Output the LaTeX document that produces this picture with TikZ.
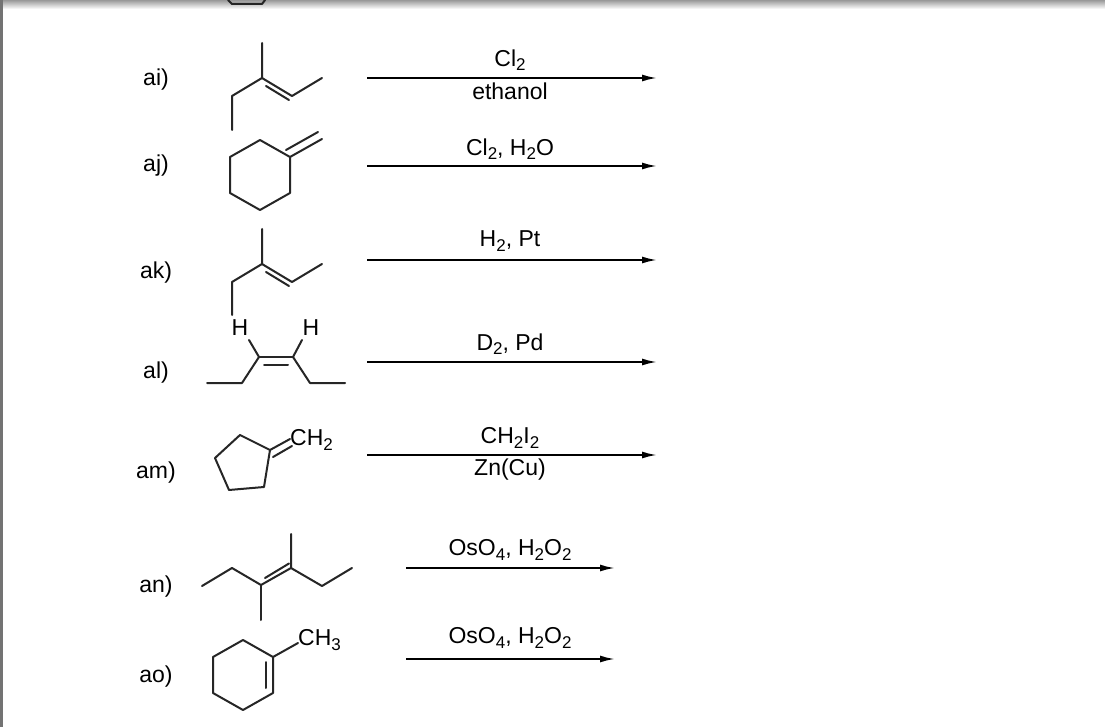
\documentclass[tikz,border=0pt]{standalone}
\usepackage{fontspec}
\setmainfont{Liberation Sans}
\usetikzlibrary{arrows.meta}
\newcommand{\sbs}[1]{\raisebox{-0.35ex}{\fontsize{17}{20}\selectfont #1}}
\begin{document}
\begin{tikzpicture}[x=1pt,y=-1pt,
  bond/.style={line width=2pt,line cap=round,line join=round,color=black!85},
  rxn/.style={line width=1.9pt,-{Latex[length=15pt,width=7pt]}},
  lbl/.style={font=\fontsize{23}{26}\selectfont,inner sep=0pt},
  reag/.style={font=\fontsize{23}{26}\selectfont,inner sep=0pt}]
\useasboundingbox (0,0) rectangle (1105,727);
\fill[white] (0,0) rectangle (1105,727);
\shade[top color=black!40,bottom color=white] (0,0) rectangle (1105,9);
\fill[black!55] (0,0) rectangle (3,727);
\draw[bond] (228,0) -- (232,4) -- (262,4) -- (265,0);
% labels
\node[lbl] (lai) at (156,80) {ai)};
\node[lbl] (laj) at (156,166) {aj)};
\node[lbl] (lak) at (156,273) {ak)};
\node[lbl] (lal) at (156,373) {al)};
\node[lbl] (lam) at (156,473) {am)};
\node[lbl] (lan) at (156,587) {an)};
\node[lbl] (lao) at (156,677) {ao)};
% ai
\draw[bond] (262,43) -- (262,78) -- (232,96) -- (232,130);
\draw[bond] (262,78) -- (292,96) -- (322,78);
\draw[bond] (266,86) -- (289,100);
% aj
\draw[bond] (260,140) -- (290,157) -- (290,193) -- (260,210) -- (230,193) -- (230,157) -- cycle;
\draw[bond] (290,157) -- (322,139);
\draw[bond] (286,150) -- (318,132);
% ak
\draw[bond] (262,229) -- (262,264) -- (232,282) -- (232,315);
\draw[bond] (262,264) -- (292,282) -- (322,264);
\draw[bond] (266,272) -- (289,286);
% al
\node[lbl] (h1) at (240,328) {H};
\node[lbl] (h2) at (311,328) {H};
\draw[bond] (249,340) -- (259,357) -- (242,383) -- (207,383);
\draw[bond] (302,340) -- (293,357) -- (310,383) -- (345,383);
\draw[bond] (259,357) -- (293,357);
\draw[bond] (264,365) -- (288,365);
% am
\draw[bond] (270,450) -- (240,435) -- (215,458) -- (229,490) -- (264,487) -- cycle;
\draw[bond] (270,450) -- (290,439);
\draw[bond] (273,457) -- (292,446);
\node[lbl,anchor=west] (ch2) at (290,440) {CH\sbs{2}};
% an
\draw[bond] (232,568) -- (202,586);
\draw[bond] (261,585) -- (232,568);
\draw[bond] (261,585) -- (261,620);
\draw[bond] (261,585) -- (291,568) -- (291,534);
\draw[bond] (291,568) -- (322,586) -- (352,568);
\draw[bond] (265,578) -- (289,563.5);
% ao
\draw[bond] (243,640) -- (273,657) -- (273,693) -- (243,710) -- (213,693) -- (213,657) -- cycle;
\draw[bond] (266,662) -- (266,688);
\draw[bond] (273,657) -- (298,643);
\node[lbl,anchor=west] (ch3) at (298,640) {CH\sbs{3}};
% arrows
\coordinate (a1) at (367,78); \coordinate (b1) at (657,78);
\coordinate (a2) at (367,166); \coordinate (b2) at (657,166);
\coordinate (a3) at (367,260); \coordinate (b3) at (657,260);
\coordinate (a4) at (367,362); \coordinate (b4) at (657,362);
\coordinate (a5) at (367,455); \coordinate (b5) at (657,455);
\coordinate (a6) at (406,568); \coordinate (b6) at (615,568);
\coordinate (a7) at (406,659); \coordinate (b7) at (615,659);
\foreach \i in {1,...,7} \draw[rxn] (a\i) -- (b\i);
\node[reag] (r1) at (510,60) {Cl\sbs{2}};
\node[reag] (r1b) at (510,91) {ethanol};
\node[reag] (r2) at (510,149) {Cl\sbs{2}, H\sbs{2}O};
\node[reag] (r3) at (510,241) {H\sbs{2}, Pt};
\node[reag] (r4) at (510,344) {D\sbs{2}, Pd};
\node[reag] (r5) at (510,438) {CH\sbs{2}I\sbs{2}};
\node[reag] (r5b) at (510,470) {Zn(Cu)};
\node[reag] (r6) at (510,550) {OsO\sbs{4}, H\sbs{2}O\sbs{2}};
\node[reag] (r7) at (510,638) {OsO\sbs{4}, H\sbs{2}O\sbs{2}};
\end{tikzpicture}
\end{document}
